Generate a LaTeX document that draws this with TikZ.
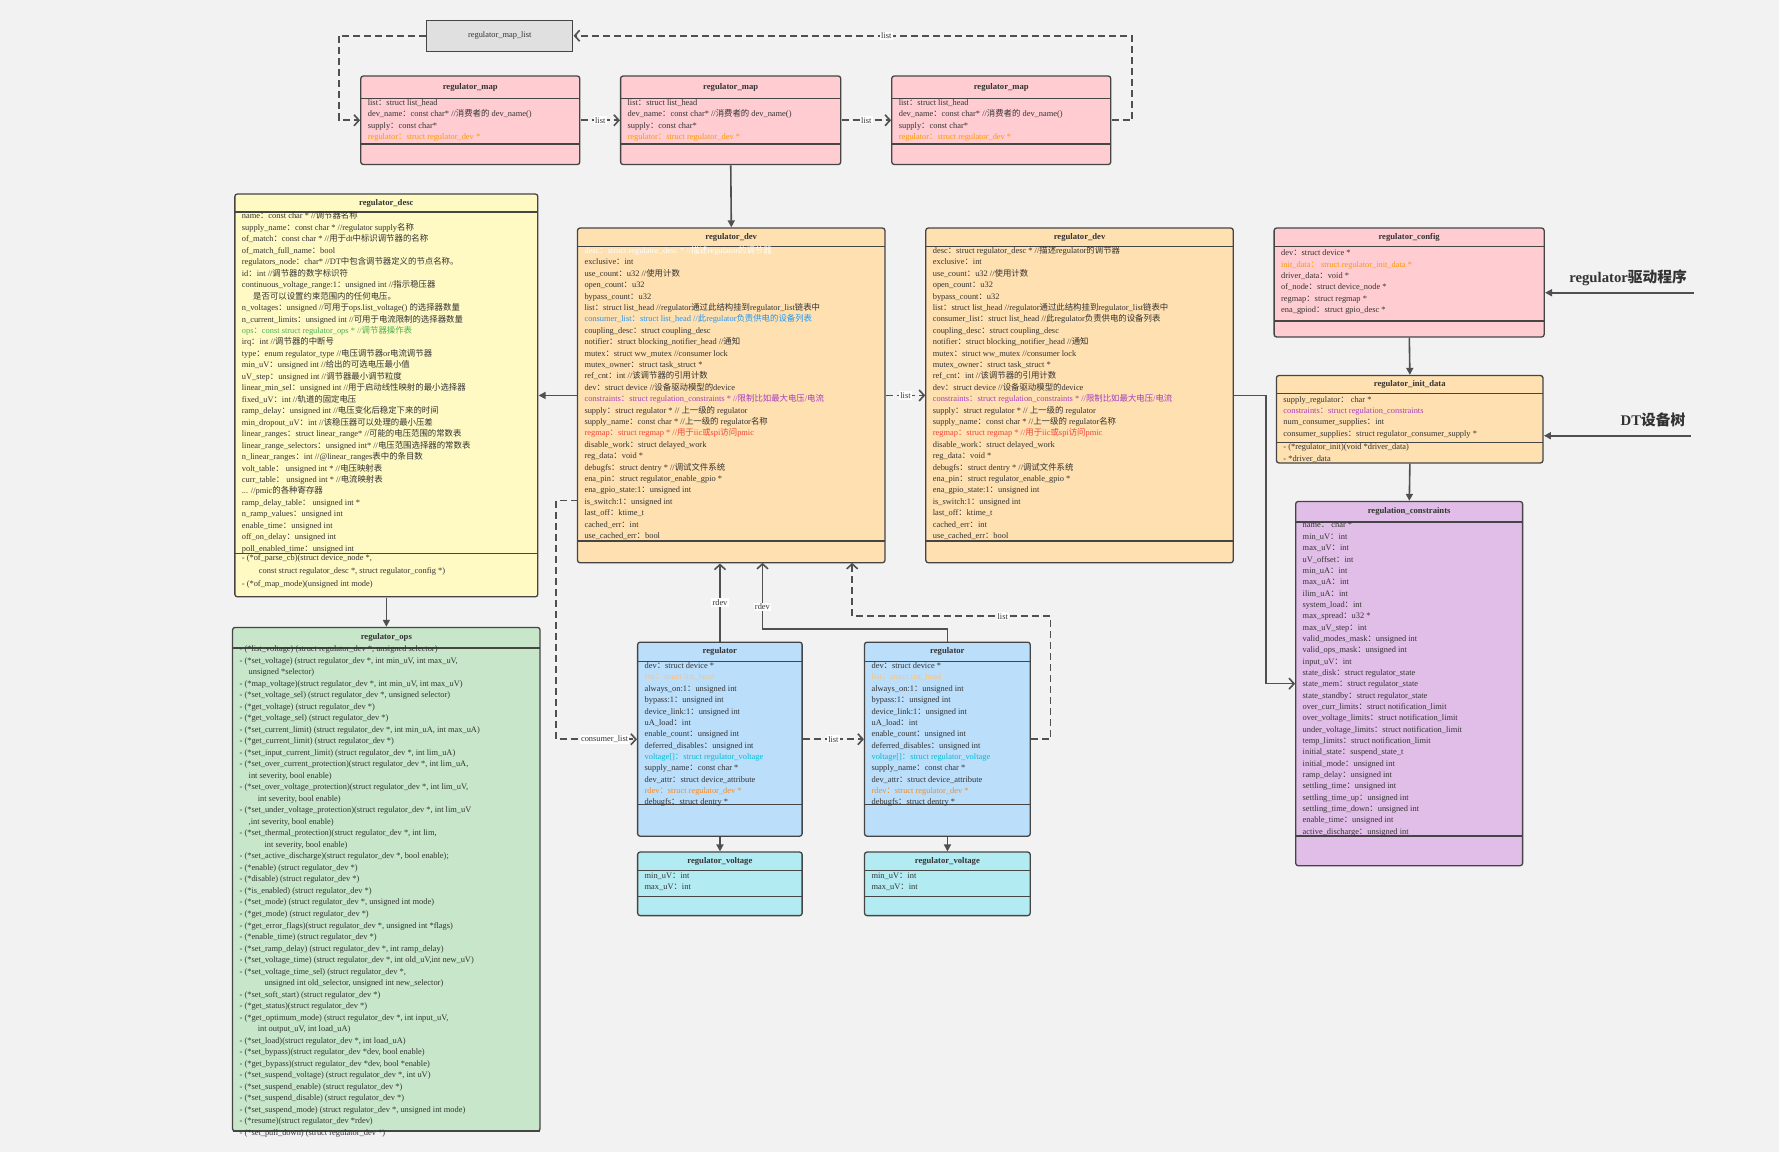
\documentclass[tikz,border=0pt]{standalone}
\usepackage{fontspec}
\usetikzlibrary{arrows.meta,calc}
\setmainfont{Liberation Serif}
\newfontfamily\cjk{Noto Sans CJK SC}
\XeTeXinterchartokenstate=1
\newXeTeXintercharclass\zhcls
\newcount\zhc
\def\setzh#1#2{\zhc=#1\relax\loop\XeTeXcharclass\zhc=\zhcls\advance\zhc1\relax\ifnum\zhc<#2\repeat}
\setzh{"3000}{"3040}\setzh{"4E00}{"A000}\setzh{"FF00}{"FFF0}
\XeTeXinterchartoks 0 \zhcls = {\cjk}
\XeTeXinterchartoks 4095 \zhcls = {\cjk}
\XeTeXinterchartoks \zhcls 0 = {\rmfamily}
\XeTeXinterchartoks \zhcls 4095 = {\rmfamily}
\definecolor{bg}{HTML}{F2F2F2}
\definecolor{bd}{HTML}{454545}
\definecolor{ln}{HTML}{505050}
\definecolor{txt}{HTML}{333333}
\definecolor{pinkF}{HTML}{FFCCD2}
\definecolor{yellowF}{HTML}{FFF9C4}
\definecolor{greenF}{HTML}{C8E6C9}
\definecolor{orangeF}{HTML}{FFE0B0}
\definecolor{blueF}{HTML}{BBDEFB}
\definecolor{cyanF}{HTML}{B2EBF2}
\definecolor{purpleF}{HTML}{E1BEE7}
\definecolor{grayF}{HTML}{E0E0E0}
\definecolor{cOr}{HTML}{FF9800}
\definecolor{cLt}{HTML}{FFC27A}
\definecolor{cGr}{HTML}{4CAF50}
\definecolor{cBl}{HTML}{2196F3}
\definecolor{cPu}{HTML}{A63DC0}
\definecolor{cRe}{HTML}{F44336}
\definecolor{cCy}{HTML}{00BCD4}
\definecolor{cRd}{HTML}{F28C28}
\tikzset{
 box/.style={draw=bd, line width=1.3pt, rounded corners=2.5pt, inner sep=0pt},
 ttl/.style={font=\fontsize{7.6}{9}\selectfont\bfseries, text=txt},
 fld/.style={anchor=north west, align=left, inner sep=0pt, text=txt, font=\fontsize{7.4}{#1}\selectfont},
 lbl/.style={fill=white, inner sep=1pt, font=\fontsize{7.4}{9}\selectfont, text=txt},
 dsh/.style={draw=ln, line width=1.6pt, dash pattern=on 7pt off 4pt, -{Straight Barb[length=5pt,width=11pt]}},
 sol/.style={draw=ln, line width=1.6pt, -{Triangle[length=7pt,width=7pt]}},
 solo/.style={draw=ln, line width=1.6pt, -{Straight Barb[length=5pt,width=11pt]}},
}
\newcommand\ubox[9]{%
 \pgfmathsetmacro\bw{#4-#2}\pgfmathsetmacro\bh{#5-#3}%
 \node[box,fill=#8,minimum width=\bw pt,minimum height=\bh pt] (#1) at ({(#2+#4)/2},{(#3+#5)/2}) {};
 \draw[line width=1.4pt,bd] (#2,#6) -- (#4,#6) (#2,#7) -- (#4,#7);
 \node[ttl] (#1-t) at ({(#2+#4)/2},{(#3+#6)/2}) {#9};}
\begin{document}
\catcode`\_=12
\newcommand\devfields[2]{%
{\color{#1}desc：struct regulator_desc * //描述regulator的调节器}\\
exclusive：int\\
use_count：u32 //使用计数\\
open_count：u32\\
bypass_count：u32\\
list：struct list_head //regulator通过此结构挂到regulator_list链表中\\
{\color{#2}consumer_list：struct list_head //此regulator负责供电的设备列表}\\
coupling_desc：struct coupling_desc\\
notifier：struct blocking_notifier_head //通知\\
mutex：struct ww_mutex //consumer lock\\
mutex_owner：struct task_struct *\\
ref_cnt：int //该调节器的引用计数\\
dev：struct device //设备驱动模型的device\\
{\color{cPu}constraints：struct regulation_constraints * //限制比如最大电压/电流}\\
supply：struct regulator * // 上一级的 regulator\\
supply_name：const char * //上一级的 regulator名称\\
{\color{cRe}regmap：struct regmap * //用于iic或spi访问pmic}\\
disable_work：struct delayed_work\\
reg_data：void *\\
debugfs：struct dentry * //调试文件系统\\
ena_pin：struct regulator_enable_gpio *\\
ena_gpio_state:1：unsigned int\\
is_switch:1：unsigned int\\
last_off：ktime_t\\
cached_err：int\\
use_cached_err：bool}
\newcommand\mapfields{list：struct list_head\\
dev_name：const char* //消费者的 dev_name()\\
supply：const char*\\
{\color{cOr}regulator：struct regulator_dev *}}
\newcommand\regfields{dev：struct device *\\
{\color{cLt}list：struct list_head}\\
always_on:1：unsigned int\\
bypass:1：unsigned int\\
device_link:1：unsigned int\\
uA_load：int\\
enable_count：unsigned int\\
deferred_disables：unsigned int\\
{\color{cCy}voltage[]：struct regulator_voltage}\\
supply_name：const char *\\
dev_attr：struct device_attribute\\
{\color{cRd}rdev：struct regulator_dev *}\\
debugfs：struct dentry *}
\begin{tikzpicture}[x=1pt,y=-1pt,scale=1.13457,every node/.append style={transform shape}]
\fill[bg] (0,0) rectangle (1568,1015.4);
\useasboundingbox (0,0) rectangle (1568,1015.4);
% regulator_map_list
\node[draw=bd,line width=1pt,fill=grayF,minimum width=129pt,minimum height=27pt,inner sep=0pt,text=txt,font=\fontsize{7.4}{9}\selectfont] (mapl) at (440.5,31.5) {regulator_map_list};
% regulator_map boxes
\ubox{map1}{318}{67}{511}{145}{87}{127}{pinkF}{regulator_map}
\node[fld=10] (map1-f) at (324,87.5) {\mapfields};
\ubox{map2}{547}{67}{741}{145}{87}{127}{pinkF}{regulator_map}
\node[fld=10] (map2-f) at (553,87.5) {\mapfields};
\ubox{map3}{786}{67}{979}{145}{87}{127}{pinkF}{regulator_map}
\node[fld=10] (map3-f) at (792,87.5) {\mapfields};
% regulator_desc
\ubox{desc}{207}{171}{474}{526}{187}{488}{yellowF}{regulator_desc}
\node[fld=10.1] (desc-f) at (213,186.5) {name：const char * //调节器名称\\
supply_name：const char * //regulator supply名称\\
of_match：const char * //用于dt中标识调节器的名称\\
of_match_full_name：bool\\
regulators_node：char* //DT中包含调节器定义的节点名称。\\
id：int //调节器的数字标识符\\
continuous_voltage_range:1：unsigned int //指示稳压器\\
\hspace{10pt}是否可以设置约束范围内的任何电压。\\
n_voltages：unsigned //可用于ops.list_voltage() 的选择器数量\\
n_current_limits：unsigned int //可用于电流限制的选择器数量\\
{\color{cGr}ops：const struct regulator_ops * //调节器操作表}\\
irq：int //调节器的中断号\\
type：enum regulator_type //电压调节器or电流调节器\\
min_uV：unsigned int //给出的可选电压最小值\\
uV_step：unsigned int //调节器最小调节粒度\\
linear_min_sel：unsigned int //用于启动线性映射的最小选择器\\
fixed_uV：int //轨道的固定电压\\
ramp_delay：unsigned int //电压变化后稳定下来的时间\\
min_dropout_uV：int //该稳压器可以处理的最小压差\\
linear_ranges：struct linear_range* //可能的电压范围的常数表\\
linear_range_selectors：unsigned int* //电压范围选择器的常数表\\
n_linear_ranges：int //@linear_ranges表中的条目数\\
volt_table： unsigned int * //电压映射表\\
curr_table： unsigned int * //电流映射表\\
... //pmic的各种寄存器\\
ramp_delay_table： unsigned int *\\
n_ramp_values：unsigned int\\
enable_time：unsigned int\\
off_on_delay：unsigned int\\
poll_enabled_time：unsigned int};
\node[fld=11.5] (desc-m) at (213,488.5) {- (*of_parse_cb)(struct device_node *,\\
\hspace{15pt}const struct regulator_desc *, struct regulator_config *)\\
- (*of_map_mode)(unsigned int mode)};
% regulator_ops
\ubox{ops}{205}{553}{476}{997}{571}{997}{greenF}{regulator_ops}
\node[fld=10.15] (ops-f) at (211,569) {- (*list_voltage) (struct regulator_dev *, unsigned selector)\\
- (*set_voltage) (struct regulator_dev *, int min_uV, int max_uV,\\
\hspace{8pt}unsigned *selector)\\
- (*map_voltage)(struct regulator_dev *, int min_uV, int max_uV)\\
- (*set_voltage_sel) (struct regulator_dev *, unsigned selector)\\
- (*get_voltage) (struct regulator_dev *)\\
- (*get_voltage_sel) (struct regulator_dev *)\\
- (*set_current_limit) (struct regulator_dev *, int min_uA, int max_uA)\\
- (*get_current_limit) (struct regulator_dev *)\\
- (*set_input_current_limit) (struct regulator_dev *, int lim_uA)\\
- (*set_over_current_protection)(struct regulator_dev *, int lim_uA,\\
\hspace{8pt}int severity, bool enable)\\
- (*set_over_voltage_protection)(struct regulator_dev *, int lim_uV,\\
\hspace{16pt}int severity, bool enable)\\
- (*set_under_voltage_protection)(struct regulator_dev *, int lim_uV\\
\hspace{8pt},int severity, bool enable)\\
- (*set_thermal_protection)(struct regulator_dev *, int lim,\\
\hspace{22pt}int severity, bool enable)\\
- (*set_active_discharge)(struct regulator_dev *, bool enable);\\
- (*enable) (struct regulator_dev *)\\
- (*disable) (struct regulator_dev *)\\
- (*is_enabled) (struct regulator_dev *)\\
- (*set_mode) (struct regulator_dev *, unsigned int mode)\\
- (*get_mode) (struct regulator_dev *)\\
- (*get_error_flags)(struct regulator_dev *, unsigned int *flags)\\
- (*enable_time) (struct regulator_dev *)\\
- (*set_ramp_delay) (struct regulator_dev *, int ramp_delay)\\
- (*set_voltage_time) (struct regulator_dev *, int old_uV,int new_uV)\\
- (*set_voltage_time_sel) (struct regulator_dev *,\\
\hspace{22pt}unsigned int old_selector, unsigned int new_selector)\\
- (*set_soft_start) (struct regulator_dev *)\\
- (*get_status)(struct regulator_dev *)\\
- (*get_optimum_mode) (struct regulator_dev *, int input_uV,\\
\hspace{16pt}int output_uV, int load_uA)\\
- (*set_load)(struct regulator_dev *, int load_uA)\\
- (*set_bypass)(struct regulator_dev *dev, bool enable)\\
- (*get_bypass)(struct regulator_dev *dev, bool *enable)\\
- (*set_suspend_voltage) (struct regulator_dev *, int uV)\\
- (*set_suspend_enable) (struct regulator_dev *)\\
- (*set_suspend_disable) (struct regulator_dev *)\\
- (*set_suspend_mode) (struct regulator_dev *, unsigned int mode)\\
- (*resume)(struct regulator_dev *rdev)\\
- (*set_pull_down) (struct regulator_dev *)};
% regulator_dev boxes
\ubox{dev1}{509}{201}{780}{496}{217}{477}{orangeF}{regulator_dev}
\node[fld=10.05] (dev1-f) at (515,217) {\devfields{white}{cBl}};
\ubox{dev2}{816}{201}{1087}{496}{217}{477}{orangeF}{regulator_dev}
\node[fld=10.05] (dev2-f) at (822,217) {\devfields{txt}{txt}};
% regulator_config
\ubox{config}{1123}{201}{1361}{297}{217}{283}{pinkF}{regulator_config}
\node[fld=10] (config-f) at (1129,220) {dev：struct device *\\
{\color{cOr}init_data： struct regulator_init_data *}\\
driver_data：void *\\
of_node：struct device_node *\\
regmap：struct regmap *\\
ena_gpiod：struct gpio_desc *};
% regulator_init_data
\ubox{init}{1125}{331}{1360}{408}{347}{390}{orangeF}{regulator_init_data}
\node[fld=10] (init-f) at (1131,349) {supply_regulator： char *\\
{\color{cPu}constraints：struct regulation_constraints}\\
num_consumer_supplies：int\\
consumer_supplies：struct regulator_consumer_supply *};
\node[fld=11] (init-m) at (1131,390.5) {- (*regulator_init)(void *driver_data)\\
- *driver_data};
% regulation_constraints
\ubox{cons}{1142}{442}{1342}{763}{460}{737}{purpleF}{regulation_constraints}
\node[fld=10] (cons-f) at (1148,460) {name： char *\\
min_uV：int\\
max_uV：int\\
uV_offset：int\\
min_uA：int\\
max_uA：int\\
ilim_uA：int\\
system_load：int\\
max_spread：u32 *\\
max_uV_step：int\\
valid_modes_mask：unsigned int\\
valid_ops_mask：unsigned int\\
input_uV：int\\
state_disk：struct regulator_state\\
state_mem：struct regulator_state\\
state_standby：struct regulator_state\\
over_curr_limits：struct notification_limit\\
over_voltage_limits：struct notification_limit\\
under_voltage_limits：struct notification_limit\\
temp_limits：struct notification_limit\\
initial_state：suspend_state_t\\
initial_mode：unsigned int\\
ramp_delay：unsigned int\\
settling_time：unsigned int\\
settling_time_up：unsigned int\\
settling_time_down：unsigned int\\
enable_time：unsigned int\\
active_discharge：unsigned int};
% regulator boxes
\ubox{reg1}{562}{566}{707}{737}{583}{709}{blueF}{regulator}
\node[fld=10] (reg1-f) at (568,584) {\regfields};
\ubox{reg2}{762}{566}{908}{737}{583}{709}{blueF}{regulator}
\node[fld=10] (reg2-f) at (768,584) {\regfields};
\ubox{volt1}{562}{751}{707}{807}{767}{790}{cyanF}{regulator_voltage}
\node[fld=10] (volt1-f) at (568,769) {min_uV：int\\max_uV：int};
\ubox{volt2}{762}{751}{908}{807}{767}{790}{cyanF}{regulator_voltage}
\node[fld=10] (volt2-f) at (768,769) {min_uV：int\\max_uV：int};
% side labels
\node[font=\fontsize{13}{15}\selectfont\bfseries,text=txt] (drv) at (1435,245) {regulator驱动程序};
\node[font=\fontsize{13}{15}\selectfont\bfseries,text=txt] (dt) at (1457,370) {DT设备树};
\coordinate (drvsrc) at (1493,258);
\coordinate (dtsrc) at (1490,384);
\draw[sol] (drvsrc) -- (drvsrc -| config.east);
\draw[sol] (dtsrc) -- (dtsrc -| init.east);
% connectors
\draw[dsh] (mapl.west) -- ++(-77,0) |- (map1.west);
\draw[dsh] (map1.east) -- node[lbl] (l1) {list} (map2.west);
\draw[dsh] (map2.east) -- node[lbl] (l2) {list} (map3.west);
\draw[dsh] (map3.east) -- ++(18,0) |- node[lbl,pos=0.72] (l3) {list} (mapl.east);
\draw[sol] (map2.south) -- (dev1.north);
\draw[sol] (dev1.west) -- (desc.east);
\draw[sol] (desc.south) -- (ops.north);
\draw[dsh] (dev1.east) -- node[lbl] (l4) {list} (dev2.west);
\draw[solo] (dev2.east) -- ++(28,0) |- (cons.west);
\draw[sol] (config.south) -- (init.north);
\draw[sol] (init.south) -- (cons.north);
\coordinate (clsrc) at (509,441);
\draw[dsh] (clsrc) -- ++(-19,0) |- node[lbl,pos=0.8] (l5) {consumer_list} (reg1.west);
\draw[dsh] (reg1.east) -- node[lbl] (l6) {list} (reg2.west);
\coordinate (d1b3) at (751,496);
\draw[dsh] (reg2.east) -- ++(17,0) |- node[lbl,pos=0.62] (l7) {list} ($(d1b3)+(0,47)$) -- (d1b3);
\draw[solo] (reg1.north) -- node[lbl,pos=0.5] (l8) {rdev} (reg1.north |- dev1.south);
\coordinate (d1b2) at (672,496);
\draw[solo] (reg2.north) -- ++(0,-11) -| (d1b2);
\node[lbl] (l9) at (672,535) {rdev};
\draw[sol] (reg1.south) -- (volt1.north);
\draw[sol] (reg2.south) -- (volt2.north);
\end{tikzpicture}
\end{document}
